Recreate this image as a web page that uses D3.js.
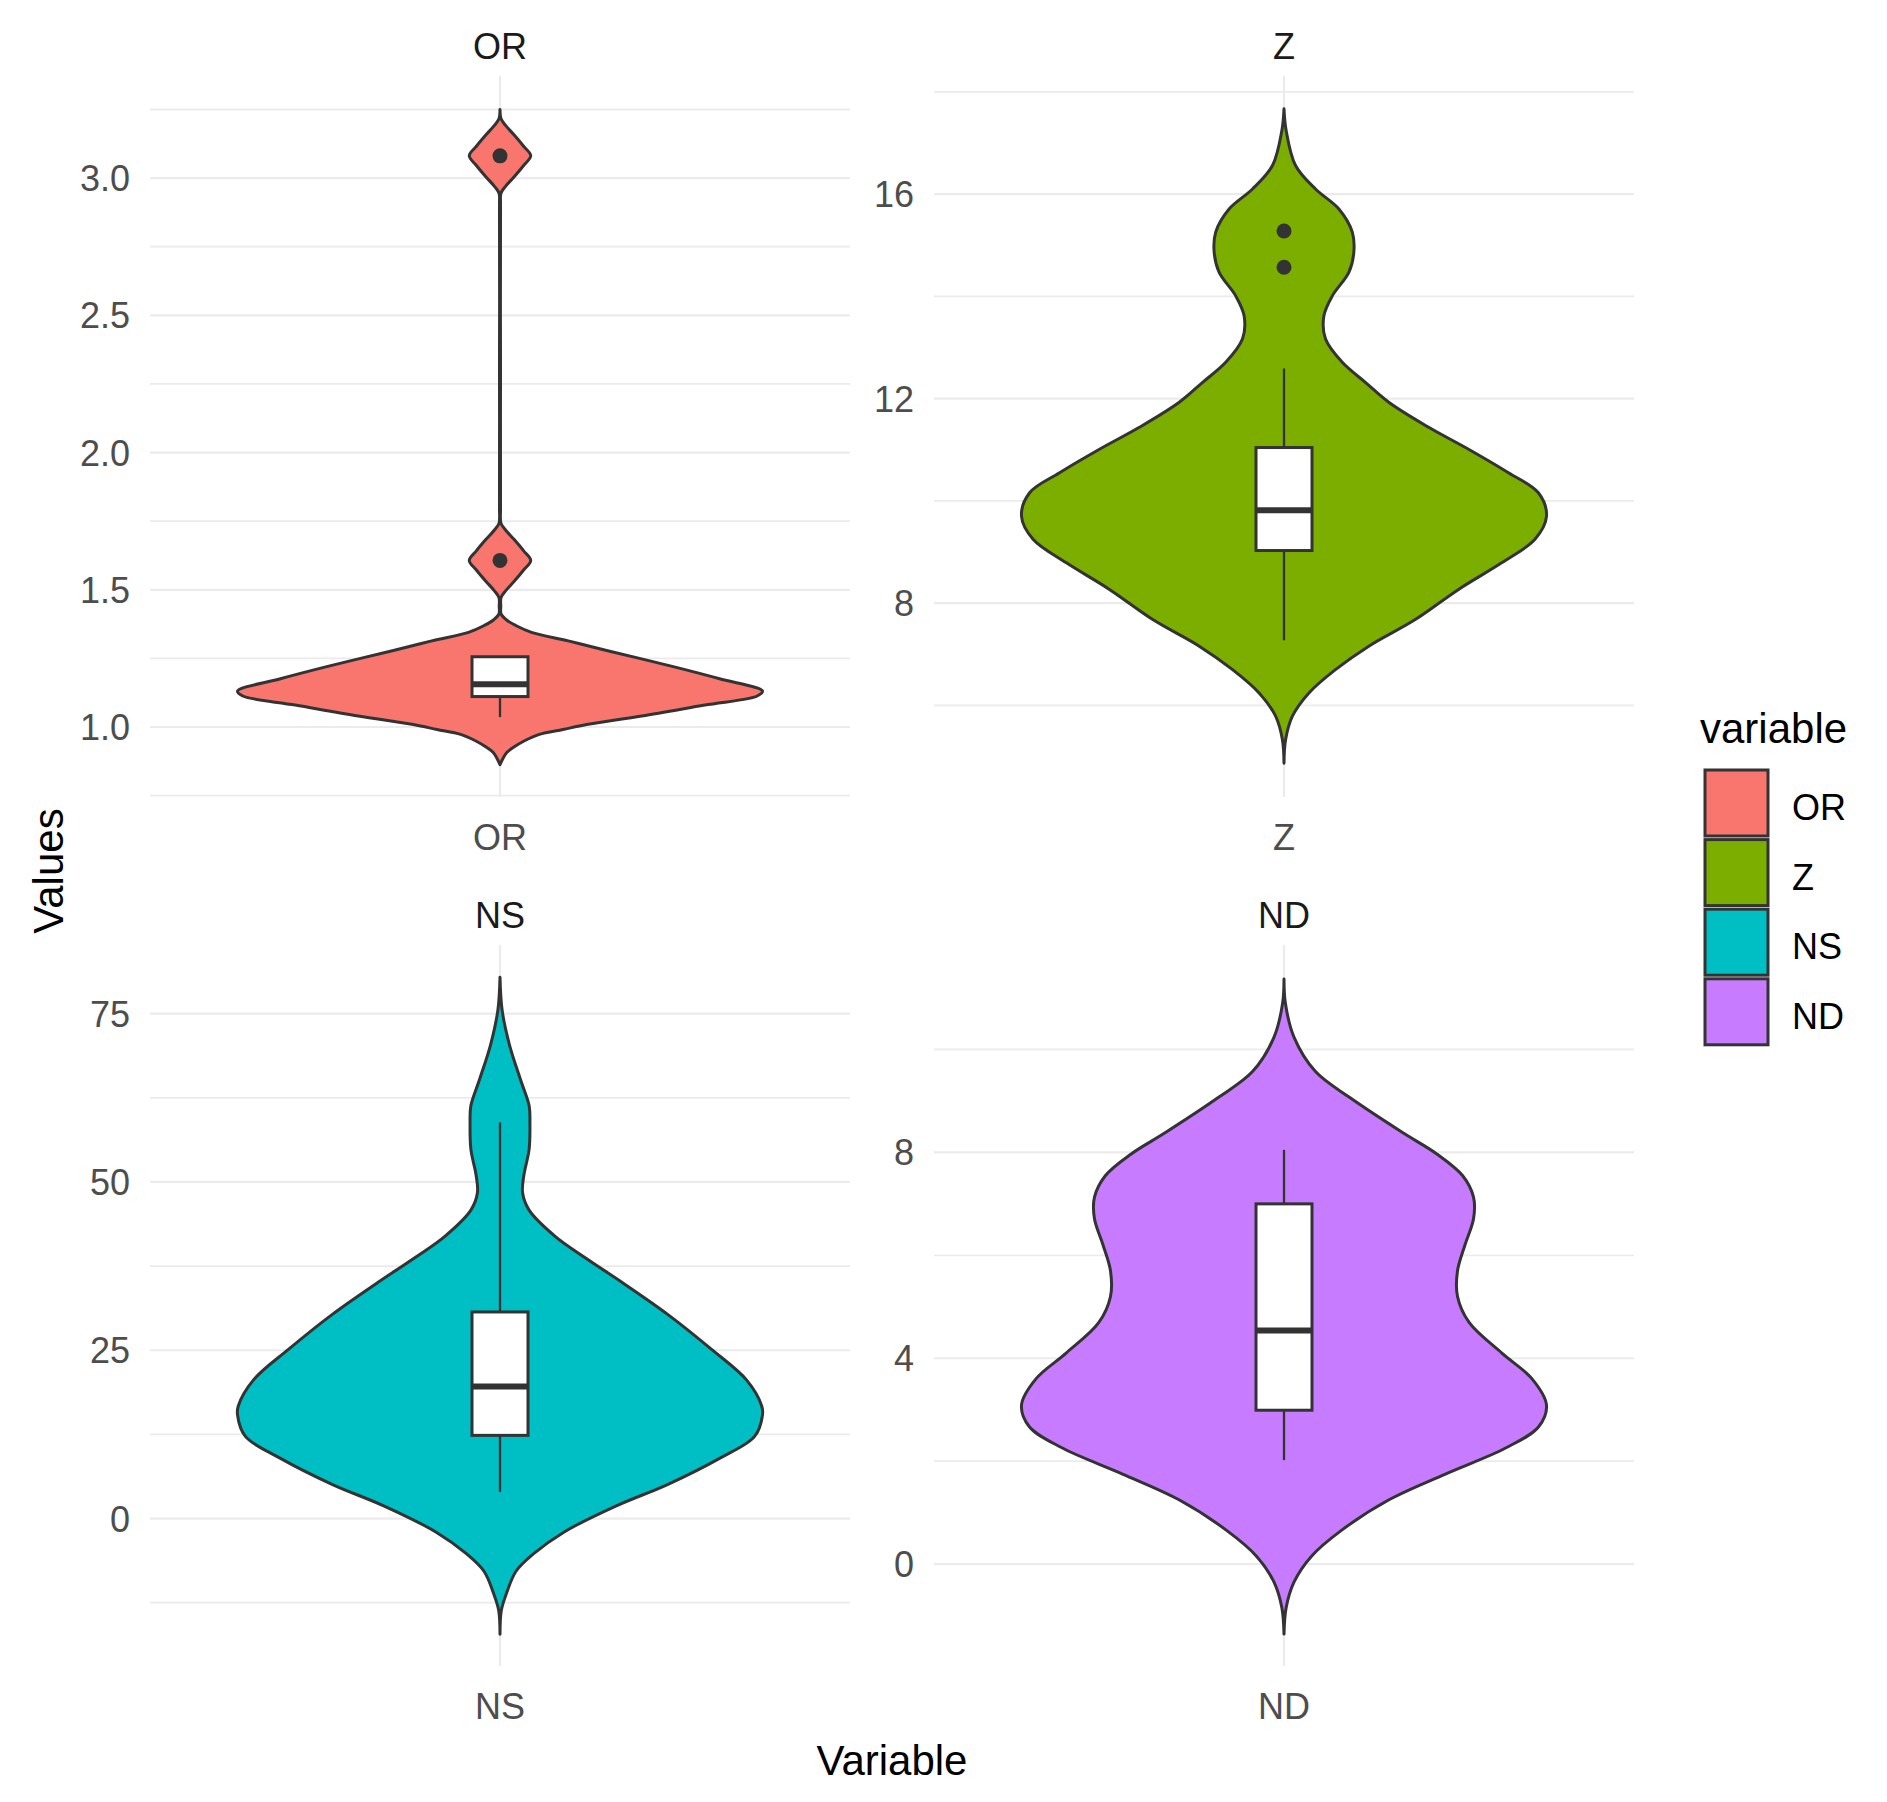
<!DOCTYPE html>
<html>
<head>
<meta charset="utf-8">
<script src="https://cdn.jsdelivr.net/npm/d3@7"></script>
<style>
  body { margin: 0; background: #fff; }
  text { font-family: "Liberation Sans", Arial, sans-serif; }
</style>
</head>
<body>
<div id="chart-area"></div>
<script>
const WIDTH = 1887
const HEIGHT = 1802

const variables = ["OR", "Z", "NS", "ND"]
const fills = ["#F8766D", "#7CAE00", "#00BFC4", "#C77CFF"]

// violin outlines: value -> width relative to the widest point
const orValues = [3.25, 3.216, 3.191, 3.156, 3.116, 3.081, 3.046, 3.006, 2.971, 2.946, 2.9, 2.3, 1.8,
  1.742, 1.717, 1.682, 1.642, 1.607, 1.572, 1.532, 1.497, 1.472, 1.44, 1.412, 1.39, 1.37, 1.345, 1.314,
  1.278, 1.22, 1.175, 1.131, 1.113, 1.08, 1.04, 1.009, 0.991, 0.973, 0.948, 0.925, 0.906, 0.863]
const orWidths = [0, 0.004, 0.022, 0.055, 0.09, 0.117, 0.09, 0.055, 0.022, 0.004, 0.002, 0.002, 0.002,
  0.004, 0.022, 0.055, 0.09, 0.117, 0.09, 0.055, 0.022, 0.004, 0.003, 0.004, 0.025, 0.06, 0.12, 0.26,
  0.41, 0.66, 0.84, 1.0, 0.98, 0.78, 0.54, 0.33, 0.24, 0.15, 0.09, 0.05, 0.025, 0]

const zValues = [17.67, 17.25, 16.56, 16.1, 15.71, 15.26, 14.86, 14.47, 14.01, 13.62, 13.17, 12.71, 12.32,
  11.93, 11.44, 11.01, 10.55, 10.16, 9.7, 9.25, 8.79, 8.27, 7.68, 7.16, 6.7, 6.245, 5.79, 5.33, 4.87]
const zWidths = [0, 0.008, 0.044, 0.12, 0.209, 0.26, 0.266, 0.247, 0.184, 0.152, 0.158, 0.222, 0.31,
  0.399, 0.551, 0.703, 0.855, 0.969, 1.0, 0.956, 0.829, 0.665, 0.5, 0.323, 0.196, 0.095, 0.032, 0.006, 0]

const nsValues = [80.4, 75.55, 70.38, 65.21, 61.32, 58.74, 54.87, 50.99, 48.4, 45.82, 41.93, 38.71, 34.82,
  30.3, 25.13, 20.6, 16.73, 15.43, 12.21, 8.98, 5.09, 1.85, -2.02, -5.26, -7.83, -11.07, -13.64, -17.2]
const nsWidths = [0, 0.008, 0.036, 0.078, 0.111, 0.114, 0.111, 0.091, 0.086, 0.111, 0.21, 0.326, 0.475,
  0.64, 0.806, 0.939, 0.997, 1.0, 0.97, 0.838, 0.64, 0.441, 0.243, 0.127, 0.061, 0.025, 0.005, 0]

const ndValues = [11.37, 10.91, 10.24, 9.57, 9.06, 8.39, 7.97, 7.55, 7.13, 6.71, 6.21, 5.7, 5.2, 4.69,
  4.1, 3.6, 3.09, 2.67, 2.26, 1.75, 1.25, 0.66, 0.15, -0.35, -0.85, -1.36]
const ndWidths = [0, 0.005, 0.038, 0.12, 0.252, 0.45, 0.582, 0.68, 0.722, 0.722, 0.69, 0.661, 0.661, 0.706,
  0.83, 0.945, 1.0, 0.97, 0.846, 0.615, 0.4, 0.22, 0.104, 0.038, 0.008, 0]

// boxplot stats: lower whisker, q1, median, q3, upper whisker
const orBox = [1.036, 1.111, 1.156, 1.256, 1.256]
const zBox = [7.275, 9.03, 9.816, 11.044, 12.59]
const nsBox = [3.93, 12.36, 19.63, 30.69, 58.86]
const ndBox = [2.02, 2.99, 4.54, 7.0, 8.05]

const orOutliers = [3.081, 1.607]
const zOutliers = [15.28, 14.57]
const nsOutliers = []
const ndOutliers = []

// y limits and breaks per facet (free scales)
const orLimits = [0.745, 3.372]
const zLimits = [4.21, 18.31]
const nsLimits = [-21.9, 85.2]
const ndLimits = [-1.98, 12.03]

const orMajor = [1.0, 1.5, 2.0, 2.5, 3.0]
const orMinor = [0.75, 1.25, 1.75, 2.25, 2.75, 3.25]
const zMajor = [8, 12, 16]
const zMinor = [6, 10, 14, 18]
const nsMajor = [0, 25, 50, 75]
const nsMinor = [-12.5, 12.5, 37.5, 62.5]
const ndMajor = [0, 4, 8]
const ndMinor = [2, 6, 10]

const panels = [
  { name: "OR", values: orValues, widths: orWidths, box: orBox, out: orOutliers, lim: orLimits, major: orMajor, minor: orMinor, fmt: d3.format(".1f") },
  { name: "Z", values: zValues, widths: zWidths, box: zBox, out: zOutliers, lim: zLimits, major: zMajor, minor: zMinor, fmt: d3.format("d") },
  { name: "NS", values: nsValues, widths: nsWidths, box: nsBox, out: nsOutliers, lim: nsLimits, major: nsMajor, minor: nsMinor, fmt: d3.format("d") },
  { name: "ND", values: ndValues, widths: ndWidths, box: ndBox, out: ndOutliers, lim: ndLimits, major: ndMajor, minor: ndMinor, fmt: d3.format("d") }
]

const PANEL = { W: 700, H: 721 }
const ORIGINS = [[150, 76], [934, 76], [150, 945], [934, 945]]
const INK = "#333333"

const svg = d3.select("#chart-area").append("svg")
  .attr("width", WIDTH)
  .attr("height", HEIGHT)

svg.append("rect").attr("width", WIDTH).attr("height", HEIGHT).attr("fill", "#fff")

const color = d3.scaleOrdinal().domain(variables).range(fills)

panels.forEach((p, i) => {
  const g = svg.append("g")
    .attr("transform", `translate(${ORIGINS[i][0]}, ${ORIGINS[i][1]})`)

  const x = d3.scaleLinear().domain([0.4, 1.6]).range([0, PANEL.W])
  const y = d3.scaleLinear().domain(p.lim).range([PANEL.H, 0])

  // grid
  g.selectAll(".minor").data(p.minor).enter().append("line")
    .attr("x1", 0).attr("x2", PANEL.W)
    .attr("y1", d => y(d)).attr("y2", d => y(d))
    .attr("stroke", "#EBEBEB").attr("stroke-width", 1.8)
  g.selectAll(".major").data(p.major).enter().append("line")
    .attr("x1", 0).attr("x2", PANEL.W)
    .attr("y1", d => y(d)).attr("y2", d => y(d))
    .attr("stroke", "#EBEBEB").attr("stroke-width", 2.2)
  g.append("line")
    .attr("x1", x(1)).attr("x2", x(1))
    .attr("y1", 0).attr("y2", PANEL.H)
    .attr("stroke", "#EBEBEB").attr("stroke-width", 2.2)

  // y tick labels
  g.selectAll(".tick").data(p.major).enter().append("text")
    .attr("x", -20)
    .attr("y", d => y(d))
    .attr("dy", "0.36em")
    .attr("text-anchor", "end")
    .attr("font-size", "36px")
    .attr("fill", "#4D4D4D")
    .text(d => p.fmt(d))

  // strip title and x tick label
  g.append("text")
    .attr("x", x(1)).attr("y", -17)
    .attr("text-anchor", "middle")
    .attr("font-size", "36px")
    .attr("fill", "#1A1A1A")
    .text(p.name)
  g.append("text")
    .attr("x", x(1)).attr("y", PANEL.H + 53)
    .attr("text-anchor", "middle")
    .attr("font-size", "36px")
    .attr("fill", "#4D4D4D")
    .text(p.name)

  // violin
  const half = 0.45
  const pts = p.values.map((v, k) => ({ v: v, w: p.widths[k] }))
  const area = d3.area()
    .x0(d => x(1 - d.w * half))
    .x1(d => x(1 + d.w * half))
    .y(d => y(d.v))
    .curve(d3.curveCatmullRom.alpha(0.5))
  g.append("path")
    .datum(pts)
    .attr("d", area)
    .attr("fill", color(p.name))
    .attr("stroke", INK)
    .attr("stroke-width", 3)
    .attr("stroke-linejoin", "round")

  // boxplot
  const bw = 0.048
  const [lo, q1, med, q3, hi] = p.box
  g.append("line")
    .attr("x1", x(1)).attr("x2", x(1))
    .attr("y1", y(lo)).attr("y2", y(q1))
    .attr("stroke", INK).attr("stroke-width", 2.3)
  g.append("line")
    .attr("x1", x(1)).attr("x2", x(1))
    .attr("y1", y(q3)).attr("y2", y(hi))
    .attr("stroke", INK).attr("stroke-width", 2.3)
  g.append("rect")
    .attr("x", x(1 - bw)).attr("width", x(1 + bw) - x(1 - bw))
    .attr("y", y(q3)).attr("height", y(q1) - y(q3))
    .attr("fill", "#fff")
    .attr("stroke", INK).attr("stroke-width", 3)
  g.append("line")
    .attr("x1", x(1 - bw)).attr("x2", x(1 + bw))
    .attr("y1", y(med)).attr("y2", y(med))
    .attr("stroke", INK).attr("stroke-width", 6)

  g.selectAll(".outlier").data(p.out).enter().append("circle")
    .attr("cx", x(1))
    .attr("cy", d => y(d))
    .attr("r", 7.5)
    .attr("fill", INK)
})

// axis titles
svg.append("text")
  .attr("x", 892).attr("y", 1775)
  .attr("text-anchor", "middle")
  .attr("font-size", "42px")
  .attr("fill", "#000")
  .text("Variable")
svg.append("text")
  .attr("transform", "translate(63, 871) rotate(-90)")
  .attr("text-anchor", "middle")
  .attr("font-size", "42px")
  .attr("fill", "#000")
  .text("Values")

// legend
const legend = svg.append("g").attr("transform", "translate(1700, 0)")
legend.append("text")
  .attr("x", 0).attr("y", 743)
  .attr("font-size", "42px")
  .attr("fill", "#000")
  .text("variable")

const KEY = { X: 5, TOP: 770, W: 63, H: 66, STEP: 69.6 }
variables.forEach((v, i) => {
  const top = KEY.TOP + i * KEY.STEP
  legend.append("rect")
    .attr("x", KEY.X).attr("y", top)
    .attr("width", KEY.W).attr("height", KEY.H)
    .attr("fill", color(v))
    .attr("stroke", INK).attr("stroke-width", 3)
  legend.append("text")
    .attr("x", 92).attr("y", top + KEY.H / 2 + 4)
    .attr("dy", "0.36em")
    .attr("font-size", "36px")
    .attr("fill", "#000")
    .text(v)
})
</script>
</body>
</html>
